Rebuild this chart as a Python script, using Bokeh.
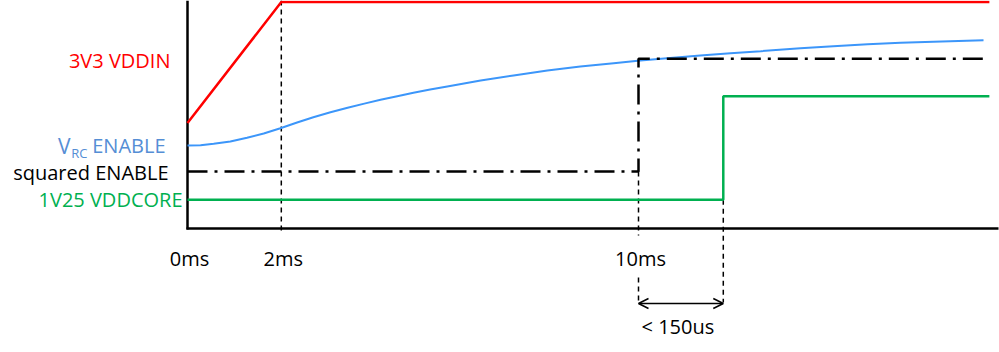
from bokeh.plotting import figure
from bokeh.models import Range1d, Arrow, OpenHead
from bokeh.core.properties import value
from bokeh.embed import file_html
from bokeh.resources import INLINE

# ---- data (time in ms on a schematic time axis, levels in arbitrary units) ----
tick_times = [0, 2.08, 10]
tick_labels = ["0ms", "2ms", "10ms"]

t_ramp = 2.08      # 3V3 reaches its final value
t_enable = 10.0    # squared ENABLE goes high
t_core = 11.88     # 1V25 VDDCORE goes high (< 150us later)
t_end = 17.78
t_rc_end = 17.65

vddin_t = [0, t_ramp, t_end]
vddin_v = [105.5, 226.5, 226.5]

vrc_t = [0, 0.29, 0.58, 0.95, 1.32, 1.69, 2.06, 2.43, 2.79, 3.17, 3.55, 3.92, 4.28,
         4.65, 5.01, 5.38, 5.76, 6.13, 6.50, 7.23, 7.98, 8.71, 9.45, 10.04, 10.70,
         11.37, 12.04, 12.71, 13.59, 14.32, 15.08, 15.81, 16.54, 17.65]
vrc_v = [83, 83.3, 84.7, 87, 90.7, 95, 100.3, 106, 111.3, 116.2, 120.7, 124.9, 128.7,
         132.3, 135.7, 138.9, 142, 145, 148, 153, 158, 162, 165.3, 168, 170.6,
         173, 175.2, 177.3, 180.3, 182.3, 184.3, 185.7, 186.7, 188.3]

sq_t = [0, t_enable, t_enable, t_rc_end]
sq_v = [57, 57, 169.7, 169.7]

core_t = [0, t_core, t_core, t_end]
core_v = [28.7, 28.7, 132.3, 132.3]

signal_names = ["3V3 VDDIN", "squared ENABLE", "1V25 VDDCORE"]
delay_label = "< 150us"

# ---- layout ----
W, H = 999, 352
PX_PER_MS = 45.1
X0_PX = 187
x_start = -X0_PX / PX_PER_MS
x_end = x_start + W / PX_PER_MS

p = figure(width=W, height=H, x_range=Range1d(x_start, x_end), y_range=Range1d(-124, 228),
           min_border=0, x_axis_location=None, y_axis_location=None,
           toolbar_location=None, output_backend="svg")
p.outline_line_color = None
p.xgrid.visible = False
p.ygrid.visible = False
p.background_fill_color = "white"
p.border_fill_color = "white"

def px(dx):
    return dx / PX_PER_MS

FONT = value("Open Sans")
FS = "20px"

# axes
p.line([0, 0], [228, -1], line_color="black", line_width=2.5)
p.line([-px(1), px(811)], [0, 0], line_color="black", line_width=2.5)

# marker dashed lines
p.line([t_ramp, t_ramp], [228, -6], line_color="black", line_width=1.5, line_dash="5 4")
p.line([t_enable, t_enable], [57, -7], line_color="black", line_width=1.5, line_dash="5 4")
p.line([t_enable, t_enable], [-49, -74], line_color="black", line_width=1.5, line_dash="5 4")
p.line([t_core, t_core], [core_v[0], -74], line_color="black", line_width=1.5, line_dash="5 4")

# signals
p.line(vddin_t, vddin_v, line_color="#FF0000", line_width=2.5)
p.line(vrc_t, vrc_v, line_color="#3C96FA", line_width=2)
p.line(sq_t, sq_v, line_color="black", line_width=2.5, line_dash="20 7 3 7")
p.line(core_t, core_v, line_color="#00B050", line_width=2.5)

# delay arrow
p.add_layout(Arrow(start=OpenHead(size=10, line_width=1.5), end=OpenHead(size=10, line_width=1.5),
                   x_start=t_enable, y_start=-75, x_end=t_core, y_end=-75,
                   line_width=1.5, line_color="black"))

# tick labels
p.text(x=[t + px(2) for t in tick_times], y=[-30] * len(tick_times), text=tick_labels,
       text_align="center", text_baseline="middle", text_font=FONT,
       text_font_size=FS, text_color="black")
p.text(x=[(t_enable + t_core) / 2 - px(3)], y=[-98], text=[delay_label],
       text_align="center", text_baseline="middle", text_font=FONT,
       text_font_size=FS, text_color="black")

# signal labels
p.text(x=[-px(17)], y=[168], text=[signal_names[0]], text_align="right", text_baseline="middle",
       text_font=FONT, text_font_size=FS, text_color="#FF0000")
p.text(x=[-px(19)], y=[sq_v[0] - 1], text=[signal_names[1]], text_align="right", text_baseline="middle",
       text_font=FONT, text_font_size=FS, text_color="black")
p.text(x=[-px(5)], y=[core_v[0]], text=[signal_names[2]], text_align="right", text_baseline="middle",
       text_font=FONT, text_font_size=FS, text_color="#00B050")

# V_RC ENABLE label (with subscript)
BLUE_TXT = "#558ED5"
p.text(x=[-px(117)], y=[vrc_v[0]], text=["V"], text_align="right", text_baseline="middle",
       text_font=FONT, text_font_size="21px", text_color=BLUE_TXT)
p.text(x=[-px(100)], y=[vrc_v[0] - 7], text=["RC"], text_align="right", text_baseline="middle",
       text_font=FONT, text_font_size="13px", text_color=BLUE_TXT)
p.text(x=[-px(22)], y=[vrc_v[0]], text=["ENABLE"], text_align="right", text_baseline="middle",
       text_font=FONT, text_font_size=FS, text_color=BLUE_TXT)

open("out.html", "w").write(file_html(p, INLINE))
